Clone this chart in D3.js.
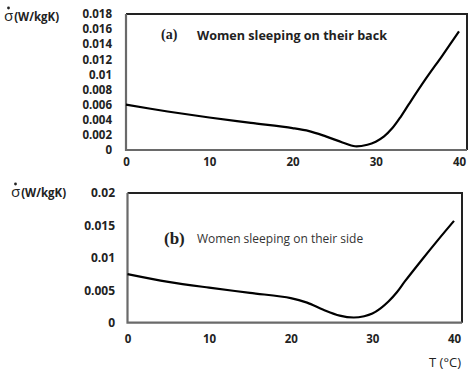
<!DOCTYPE html>
<html><head><meta charset="utf-8">
<script src="https://cdn.jsdelivr.net/npm/d3@7"></script>
<style>body{margin:0;background:#fff}svg{display:block}</style>
</head><body>
<svg id="c" width="474" height="379"></svg>
<script>
// Panel (a): women sleeping on their back
const tempA = [0, 5, 10, 15, 20, 22, 24, 26, 27.5, 29, 30, 31, 32, 33, 34, 36, 38, 40];
const sigmaA = [0.0060, 0.0051, 0.0043, 0.0036, 0.0029, 0.0025, 0.0018, 0.0010, 0.0005, 0.0007, 0.0011, 0.0018, 0.0029, 0.0044, 0.0061, 0.0094, 0.0125, 0.0157];
// Panel (b): women sleeping on their side
const tempB = [0, 5, 10, 15, 20, 22, 24, 26, 27.7, 29, 30, 31, 32, 33, 34, 36, 38, 40];
const sigmaB = [0.0075, 0.0063, 0.0054, 0.0046, 0.0038, 0.0031, 0.0020, 0.0011, 0.0008, 0.0010, 0.0014, 0.0022, 0.0033, 0.0047, 0.0064, 0.0096, 0.0127, 0.0157];
const xTicks = [0, 10, 20, 30, 40];
const yTicksA = [0, 0.002, 0.004, 0.006, 0.008, 0.01, 0.012, 0.014, 0.016, 0.018];
const yLabelsA = ["0", "0.002", "0.004", "0.006", "0.008", "0.01", "0.012", "0.014", "0.016", "0.018"];
const yTicksB = [0, 0.005, 0.01, 0.015, 0.02];
const yLabelsB = ["0", "0.005", "0.01", "0.015", "0.02"];

const svg = d3.select("#c");
const FONT = "'Open Sans', 'Liberation Sans', Arial, sans-serif";

function panel(o) {
  const x = d3.scaleLinear().domain([0, 40]).range([o.x0, o.x40]);
  const y = d3.scaleLinear().domain([0, o.ymax]).range([o.bottom, o.top]);
  const g = svg.append("g");
  const ya = d3.axisLeft(y).tickValues(o.yTicks).tickSize(0).tickPadding(0)
    .tickFormat((d, i) => o.yLabels[i]);
  g.append("g").attr("transform", `translate(${o.yLabelRight},0)`).call(ya)
    .call(s => s.select(".domain").remove())
    .selectAll("text").attr("font-family", FONT).attr("font-size", o.yFont)
    .attr("font-weight", "bold").attr("fill", "#222");
  const xa = d3.axisBottom(x).tickValues(xTicks).tickSize(0).tickPadding(0)
    .tickFormat(d3.format("d"));
  g.append("g").attr("transform", `translate(0,${o.xLabelY})`).call(xa)
    .call(s => s.select(".domain").remove())
    .selectAll("text").attr("font-family", FONT).attr("font-size", 11.5)
    .attr("font-weight", "bold").attr("fill", "#222");
  g.append("path").attr("d", `M${o.x0},${o.top}H${o.right}V${o.bottom}`)
    .attr("fill", "none").attr("stroke", "#222").attr("stroke-width", 2);
  g.append("path").attr("d", `M${o.x0},${o.top}V${o.bottom}H${o.right}`)
    .attr("fill", "none").attr("stroke", "#6a6a6a").attr("stroke-width", 2.2);
  const line = d3.line().x((d, i) => x(o.t[i])).y(d => y(d)).curve(d3.curveCatmullRom.alpha(0.5));
  g.append("path").datum(o.v).attr("d", line).attr("fill", "none")
    .attr("stroke", "#000").attr("stroke-width", 2.2);
  const ul = g.append("text").attr("x", o.sx).attr("y", o.sy)
    .attr("font-family", FONT).attr("fill", "#222");
  ul.append("tspan").attr("font-size", 15).text("σ");
  ul.append("tspan").attr("font-size", 11.5).attr("font-weight", "bold").attr("dx", 1).text("(W/kgK)");
  g.append("circle").attr("cx", o.sx + 4.5).attr("cy", o.sy - 13).attr("r", 1.4).attr("fill", "#222");
  return {x, y, g};
}

const A = panel({x0: 126, x40: 459, right: 467, top: 14, bottom: 150, ymax: 0.018,
  yTicks: yTicksA, yLabels: yLabelsA, yLabelRight: 112, yFont: 11.5, xLabelY: 158,
  t: tempA, v: sigmaA, sx: 4, sy: 21});
A.g.append("text").attr("x", 161).attr("y", 39).attr("font-family", "'Liberation Serif', serif")
  .attr("font-weight", "bold").attr("font-size", 14).attr("fill", "#222").text("(a)");
A.g.append("text").attr("x", 197).attr("y", 40).attr("font-family", FONT)
  .attr("font-weight", "bold").attr("font-size", 12.6).attr("fill", "#222").text("Women sleeping on their back");

const B = panel({x0: 127.5, x40: 454, right: 462, top: 193, bottom: 322.7, ymax: 0.02,
  yTicks: yTicksB, yLabels: yLabelsB, yLabelRight: 115, yFont: 12, xLabelY: 335,
  t: tempB, v: sigmaB, sx: 11, sy: 197});
B.g.append("text").attr("x", 164).attr("y", 244).attr("font-family", "'Liberation Serif', serif")
  .attr("font-weight", "bold").attr("font-size", 17).attr("fill", "#222").text("(b)");
B.g.append("text").attr("x", 197).attr("y", 243).attr("font-family", FONT)
  .attr("font-size", 12).attr("fill", "#333").text("Women sleeping on their side");
B.g.append("text").attr("x", 461).attr("y", 367).attr("text-anchor", "end").attr("font-family", FONT)
  .attr("font-size", 13).attr("fill", "#222").text("T (°C)");
</script>
</body></html>
